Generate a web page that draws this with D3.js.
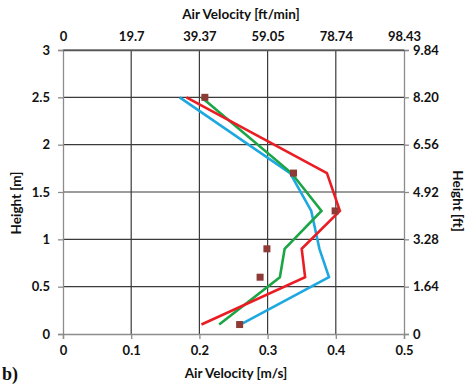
<!DOCTYPE html>
<html><head><meta charset="utf-8">
<script src="https://cdn.jsdelivr.net/npm/d3@7"></script>
<style>body{margin:0;background:#fff}svg{display:block}text{font-family:Lato,"Open Sans",sans-serif;font-weight:bold;fill:#111}</style>
</head><body><svg id="c" width="474" height="387"></svg>
<script>
const heights = [0.1, 0.6, 0.9, 1.3, 1.7, 2.5];
const redVel = [0.203, 0.355, 0.35, 0.406, 0.387, 0.181];
const greenVel = [0.229, 0.318, 0.325, 0.379, 0.335, 0.203];
const blueVel = [0.26, 0.39, 0.376, 0.364, 0.333, 0.171];
const measuredVel = [0.259, 0.289, 0.299, 0.399, 0.338, 0.208];
const xTicks = [0, 0.1, 0.2, 0.3, 0.4, 0.5];
const xTopLabels = ["0", "19.7", "39.37", "59.05", "78.74", "98.43"];
const yTicks = [0, 0.5, 1, 1.5, 2, 2.5, 3];
const yRightLabels = ["0", "1.64", "3.28", "4.92", "6.56", "8.20", "9.84"];

const svg = d3.select("#c");
const L = 63, R = 404, T = 50, B = 334;
const x = d3.scaleLinear().domain([0, 0.5]).range([L, R]);
const y = d3.scaleLinear().domain([0, 3]).range([B, T]);

// grid
const g = svg.append("g");
g.selectAll(".vg").data(xTicks.slice(1, -1)).enter().append("line")
  .attr("x1", d => x(d)).attr("x2", d => x(d)).attr("y1", T).attr("y2", B)
  .attr("stroke", "#3a3a3a").attr("stroke-width", 1.2);
g.selectAll(".hg").data(yTicks.slice(1)).enter().append("line")
  .attr("y1", d => y(d)).attr("y2", d => y(d)).attr("x1", L).attr("x2", R)
  .attr("stroke", "#3a3a3a").attr("stroke-width", 1.2);

// axes
const axB = svg.append("g").attr("transform", `translate(0,${B})`)
  .call(d3.axisBottom(x).tickValues(xTicks).tickFormat(d3.format("")).tickSize(5).tickPadding(7));
const axL = svg.append("g").attr("transform", `translate(${L},0)`)
  .call(d3.axisLeft(y).tickValues(yTicks).tickFormat(d3.format("")).tickSize(5).tickPadding(8));
const axR = svg.append("g").attr("transform", `translate(${R},0)`)
  .call(d3.axisRight(y).tickValues(yTicks).tickFormat((d, i) => yRightLabels[i]).tickSize(5).tickPadding(4));
const axT = svg.append("g").attr("transform", `translate(0,${T})`)
  .call(d3.axisTop(x).tickValues(xTicks).tickFormat((d, i) => xTopLabels[i]).tickSize(0).tickPadding(9));
[axB, axL, axR, axT].forEach(a => {
  a.select(".domain").attr("stroke", "#8c8c8c").attr("stroke-width", 1.3);
  a.selectAll(".tick line").attr("stroke", "#8c8c8c").attr("stroke-width", 1.3);
  a.selectAll("text").style("font-size", "13px").attr("fill", "#111");
});
axT.select(".domain").attr("stroke", "#555");

// lines
const line = vals => d3.line().x((d, i) => x(vals[i])).y((d, i) => y(heights[i]));
[[blueVel, "#1ea8e0"], [greenVel, "#1ba545"], [redVel, "#ea1c24"]].forEach(([vals, col]) => {
  svg.append("path").datum(heights).attr("d", line(vals))
    .attr("fill", "none").attr("stroke", col).attr("stroke-width", 2.6).attr("stroke-linejoin", "miter");
});
svg.selectAll(".m").data(heights).enter().append("rect")
  .attr("x", (d, i) => x(measuredVel[i]) - 3.5).attr("y", d => y(d) - 3.5)
  .attr("width", 7).attr("height", 7).attr("fill", "#8e3a36");

// titles
svg.append("text").attr("x", 241).attr("y", 19).attr("text-anchor", "middle").style("font-size", "13.5px").text("Air Velocity [ft/min]");
svg.append("text").attr("x", 236).attr("y", 378).attr("text-anchor", "middle").style("font-size", "13.5px").text("Air Velocity [m/s]");
svg.append("text").attr("transform", "translate(21,203) rotate(-90)").attr("text-anchor", "middle").style("font-size", "13.5px").text("Height [m]");
svg.append("text").attr("transform", "translate(453,201) rotate(90)").attr("text-anchor", "middle").style("font-size", "13.5px").text("Height [ft]");
svg.append("text").attr("x", 2).attr("y", 380).style("font-family", "'Liberation Serif',serif").style("font-size", "18px").text("b)");
</script></body></html>
